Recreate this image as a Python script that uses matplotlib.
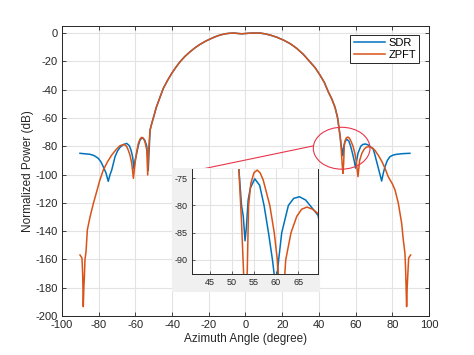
import matplotlib
matplotlib.use('Agg')
import matplotlib.pyplot as plt
from matplotlib.patches import Ellipse, Rectangle

plt.rcParams['font.family'] = ['Liberation Sans', 'DejaVu Sans']
plt.rcParams['axes.unicode_minus'] = False

# ---------------- data ----------------
# shared main lobe
main_ang = [-52.0, -51.0, -50.0, -48.6, -46.5, -44.8, -42.5, -40.2, -38.0, -35.7,
            -33.0, -30.2, -27.5, -24.8, -22.0, -19.3, -16.5, -13.9, -11.0, -8.4,
            -6.0, -4.0, -2.0, 0.0, 2.0, 4.0, 7.9, 10.5, 13.4, 17.0,
            20.6, 24.5, 27.9, 31.5, 35.1, 38.0, 40.6, 43.0, 45.1, 47.0,
            48.8, 50.2, 51.6]
main_db = [-68.5, -63.5, -59.0, -52.5, -45.0, -39.1, -33.5, -28.5, -24.3, -20.3,
           -16.5, -13.2, -10.4, -8.0, -5.9, -4.2, -2.6, -1.4, -0.5, -0.1,
           0.0, -0.3, -0.5, -0.3, -0.1, 0.0, 0.0, -0.5, -1.4, -2.9,
           -4.9, -7.6, -10.8, -15.0, -20.3, -24.6, -29.7, -35.0, -41.5, -46.5,
           -52.5, -60.0, -73.3]

# SDR side lobes
sdr_left_ang = [-90.2, -87.0, -84.7, -82.5, -80.2, -78.8, -77.5, -76.0, -74.8, -73.8,
                -72.9, -71.1, -69.8, -68.4, -66.5, -64.7, -63.3, -62.4, -61.5, -60.8,
                -60.2, -59.3, -58.4, -57.5, -56.5, -55.7, -54.8, -53.8, -53.3, -53.0,
                -52.6]
sdr_left_db = [-85.0, -85.4, -85.7, -86.6, -88.6, -91.0, -94.5, -99.0, -104.8, -100.0,
               -96.8, -87.4, -83.5, -80.8, -78.8, -78.0, -79.6, -82.7, -87.5, -96.0,
               -90.0, -85.0, -79.5, -75.6, -74.3, -74.5, -76.0, -80.0, -88.0, -97.0,
               -85.0]
sdr_right_ang = [52.2, 52.6, 53.0, 53.3, 53.7, 54.2, 55.2, 56.3, 57.3, 58.3,
                 59.2, 60.0, 60.6, 61.3, 62.8, 64.0, 65.3, 66.7, 68.0, 69.5,
                 70.3, 71.5, 72.8, 74.2, 75.1, 76.0, 77.3, 78.7, 80.5, 82.4,
                 86.0, 89.6]
sdr_right_db = [-80.0, -82.0, -86.5, -84.0, -79.0, -76.8, -75.1, -76.3, -80.0, -85.0,
                -90.0, -95.5, -90.0, -85.0, -80.0, -78.7, -78.4, -79.0, -80.3, -81.8,
                -85.0, -91.0, -97.5, -104.6, -99.0, -94.5, -90.0, -87.4, -86.2, -85.7,
                -85.2, -85.0]

# ZPFT side lobes
zpft_left_ang = [-90.2, -89.6, -89.1, -88.7, -88.4, -88.1, -87.8, -87.5, -86.9, -86.2,
                 -84.7, -82.9, -81.1, -79.5, -77.5, -75.2, -72.9, -70.6, -68.4, -66.2,
                 -64.8, -63.9, -62.9, -62.0, -61.1, -60.2, -59.3, -58.4, -57.5, -56.6,
                 -55.7, -54.8, -53.8, -53.3, -52.8]
zpft_left_db = [-156.9, -158.0, -159.2, -172.0, -193.4, -180.0, -172.2, -160.4, -154.5, -139.2,
                -129.8, -120.4, -112.1, -104.5, -96.8, -91.0, -86.2, -82.5, -79.6, -78.7,
                -80.0, -82.7, -86.5, -92.1, -102.7, -92.1, -84.0, -78.0, -75.0, -73.7,
                -74.2, -76.8, -82.7, -100.3, -82.7]
zpft_right_ang = [52.2, 52.7, 53.1, 53.5, 53.8, 54.3, 55.0, 55.75, 56.4, 57.1,
                  58.6, 59.6, 60.3, 61.3, 62.2, 63.4, 64.7, 65.8, 67.0, 68.3,
                  69.5, 70.6, 72.4, 74.2, 76.0, 77.8, 80.0, 81.5, 83.3, 85.1,
                  86.0, 86.9, 87.3, 87.8, 88.1, 88.4, 88.9, 89.4, 90.0]
zpft_right_db = [-83.0, -93.0, -99.2, -92.0, -80.0, -76.0, -74.0, -73.5, -74.0, -75.3,
                 -80.0, -85.0, -90.0, -101.5, -90.0, -85.0, -82.0, -80.7, -80.3, -80.7,
                 -81.5, -83.0, -86.5, -90.5, -95.5, -101.6, -106.5, -111.0, -120.4, -134.5,
                 -146.3, -155.7, -168.7, -193.4, -180.0, -172.2, -159.2, -158.0, -156.9]

sdr_ang = sdr_left_ang + main_ang + sdr_right_ang
sdr_db = sdr_left_db + main_db + sdr_right_db
zpft_ang = zpft_left_ang + main_ang + zpft_right_ang
zpft_db = zpft_left_db + main_db + zpft_right_db

series_labels = ['SDR', 'ZPFT']
x_ticks = [-100, -80, -60, -40, -20, 0, 20, 40, 60, 80, 100]
y_ticks = [0, -20, -40, -60, -80, -100, -120, -140, -160, -180, -200]
inset_x_ticks = [45, 50, 55, 60, 65]
inset_y_ticks = [-75, -80, -85, -90]

# ---------------- styling ----------------
BLUE = '#0072BD'
ORANGE = '#D95319'
DARK = '#262626'
GRID = '#e3e3e3'
RED = '#e8364a'

W, H = 474, 355
fig = plt.figure(figsize=(W / 100, H / 100), dpi=100)
fig.patch.set_facecolor('white')

ax = fig.add_axes([62 / W, 1 - 316 / H, (429 - 62) / W, (316 - 26) / H])
ax.plot(sdr_ang, sdr_db, color=BLUE, lw=1.1, label=series_labels[0], zorder=3)
ax.plot(zpft_ang, zpft_db, color=ORANGE, lw=1.1, label=series_labels[1], zorder=4)
ax.set_xlim(-100, 100)
ax.set_ylim(-200, 5)
ax.set_xticks(x_ticks)
ax.set_yticks(y_ticks)
ax.grid(True, color=GRID, lw=0.8)
ax.set_axisbelow(True)
ax.tick_params(direction='in', length=3, width=0.6, colors=DARK, labelsize=8,
               top=True, right=True, pad=3)
for s in ax.spines.values():
    s.set_color(DARK)
    s.set_linewidth(0.7)
ax.set_xlabel('Azimuth Angle (degree)', fontsize=8.5, color=DARK, labelpad=2)
ax.set_ylabel('Normalized Power (dB)', fontsize=8.5, color=DARK, labelpad=1)

leg = ax.legend(loc='upper right', bbox_to_anchor=(0.973, 0.969), borderaxespad=0,
                fontsize=8, handlelength=2.8, handletextpad=0.3, labelspacing=0.15,
                borderpad=0.3, fancybox=False, framealpha=1, edgecolor=DARK)
leg.get_frame().set_linewidth(0.7)

# ellipse and connector line
ax.add_patch(Ellipse((52.4, -81.4), 30.9, 29.6, fill=False, edgecolor=RED, lw=0.8,
                     zorder=5))
ax.plot([-23.2, 36.8], [-96.0, -79.8], color=RED, lw=0.8, zorder=5)

# gray backdrop of the inset
fig.patches.append(Rectangle((172 / W, 1 - 292 / H), 148 / W, 124 / H,
                             transform=fig.transFigure, facecolor='#f0f0f0',
                             edgecolor='none', zorder=1))

axi = fig.add_axes([192 / W, 1 - 274 / H, 126 / W, 105 / H])
axi.set_zorder(2)
axi.plot(sdr_ang, sdr_db, color=BLUE, lw=1.1, zorder=3)
axi.plot(zpft_ang, zpft_db, color=ORANGE, lw=1.1, zorder=4)
axi.set_xlim(41, 69.5)
axi.set_ylim(-92.6, -73.3)
axi.set_xticks(inset_x_ticks)
axi.set_yticks(inset_y_ticks)
axi.grid(True, color=GRID, lw=0.8)
axi.set_axisbelow(True)
axi.tick_params(direction='in', length=2, width=0.5, colors=DARK, labelsize=6.5,
                pad=3)
for s in axi.spines.values():
    s.set_color(DARK)
    s.set_linewidth(0.7)
axi.spines['top'].set_visible(False)

fig.savefig('out.png', dpi=100)
